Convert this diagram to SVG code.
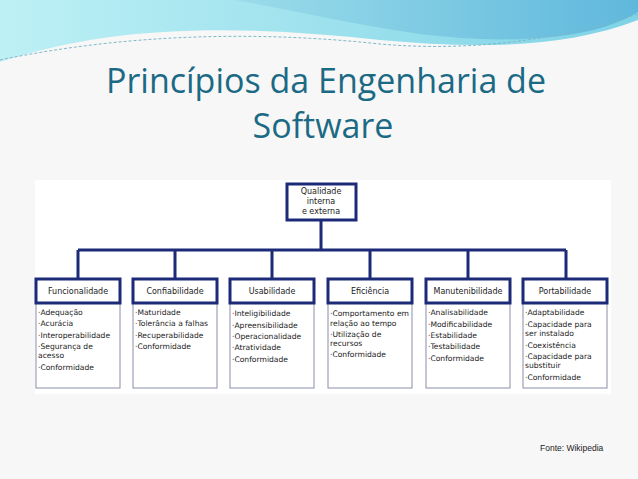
<svg xmlns="http://www.w3.org/2000/svg" width="638" height="479" viewBox="0 0 638 479">
<defs>
<linearGradient id="w1" x1="0" y1="0" x2="1" y2="0"><stop offset="0" stop-color="#bdf0f5"/><stop offset="1" stop-color="#7fd3e6"/></linearGradient>
<linearGradient id="w2" x1="0" y1="0" x2="1" y2="0"><stop offset="0" stop-color="#9bdcea"/><stop offset="1" stop-color="#5fb8dc"/></linearGradient>
</defs>
<style>
.t{font-family:"Open Sans","DejaVu Sans",sans-serif;fill:#1b6a85;font-size:34px;text-anchor:middle}
.h{font-family:"DejaVu Sans",sans-serif;font-size:8px;fill:#222;text-anchor:middle}
.b{font-family:"DejaVu Sans",sans-serif;font-size:7.6px;fill:#222}
.hb{fill:#fff;stroke:#1c2a78;stroke-width:3}
.bb{fill:#fff;stroke:#8a8fa8;stroke-width:1}
.c{fill:none;stroke:#1c2a78;stroke-width:3}
</style>
<rect width="638" height="479" fill="#f7f7f7"/>
<path d="M0 0H638V20C560 50 470 48 380 40C250 26 120 22 0 62Z" fill="url(#w1)"/>
<path d="M235 0H638V12C590 42 500 44 420 34C350 24 290 10 235 0Z" fill="url(#w2)"/>
<path d="M0 60C120 35 250 30 380 44C470 52 560 40 638 14" fill="none" stroke="#7fb9c8" stroke-width="1" stroke-dasharray="3 2"/>
<text class="t" x="326" y="93">Princípios da Engenharia de</text>
<text class="t" x="323" y="138">Software</text>
<rect x="35" y="180" width="576" height="214" fill="#fff"/>
<g id="connectors">
<path class="c" d="M321 220V250M78 250H566M78 250V279M175 250V279M272 250V279M370 250V279M468 250V279M566 250V279"/>
</g>
<g id="root"><rect class="hb" x="287" y="184" width="69" height="36"/>
<text class="h" x="321" y="194">Qualidade</text><text class="h" x="321" y="204">interna</text><text class="h" x="321" y="214">e externa</text></g>
<g id="funcionalidade"><rect class="bb" x="36" y="303" width="84" height="85"/><rect class="hb" x="36" y="279" width="84" height="24"/>
<text class="h" x="78" y="294">Funcionalidade</text>
<text class="b" x="38" y="315">·Adequação</text><text class="b" x="38" y="326">·Acurácia</text><text class="b" x="38" y="338">·Interoperabilidade</text><text class="b" x="38" y="349">·Segurança de</text><text class="b" x="38" y="358">acesso</text><text class="b" x="38" y="370">·Conformidade</text></g>
<g id="confiabilidade"><rect class="bb" x="133" y="303" width="84" height="85"/><rect class="hb" x="133" y="279" width="84" height="24"/>
<text class="h" x="175" y="294">Confiabilidade</text>
<text class="b" x="135" y="315">·Maturidade</text><text class="b" x="135" y="326">·Tolerância a falhas</text><text class="b" x="135" y="338">·Recuperabilidade</text><text class="b" x="135" y="349">·Conformidade</text></g>
<g id="usabilidade"><rect class="bb" x="230" y="303" width="84" height="85"/><rect class="hb" x="230" y="279" width="84" height="24"/>
<text class="h" x="272" y="294">Usabilidade</text>
<text class="b" x="232" y="316">·Inteligibilidade</text><text class="b" x="232" y="328">·Apreensibilidade</text><text class="b" x="232" y="339">·Operacionalidade</text><text class="b" x="232" y="350">·Atratividade</text><text class="b" x="232" y="362">·Conformidade</text></g>
<g id="eficiencia"><rect class="bb" x="328" y="303" width="84" height="85"/><rect class="hb" x="328" y="279" width="84" height="24"/>
<text class="h" x="370" y="294">Eficiência</text>
<text class="b" x="330" y="316">·Comportamento em</text><text class="b" x="330" y="326">relação ao tempo</text><text class="b" x="330" y="337">·Utilização de</text><text class="b" x="330" y="346"> recursos</text><text class="b" x="330" y="357">·Conformidade</text></g>
<g id="manutenibilidade"><rect class="bb" x="426" y="303" width="84" height="85"/><rect class="hb" x="426" y="279" width="84" height="24"/>
<text class="h" x="468" y="294">Manutenibilidade</text>
<text class="b" x="428" y="315">·Analisabilidade</text><text class="b" x="428" y="327">·Modificabilidade</text><text class="b" x="428" y="338">·Estabilidade</text><text class="b" x="428" y="349">·Testabilidade</text><text class="b" x="428" y="361">·Conformidade</text></g>
<g id="portabilidade"><rect class="bb" x="523" y="303" width="84" height="85"/><rect class="hb" x="523" y="279" width="84" height="24"/>
<text class="h" x="565" y="294">Portabilidade</text>
<text class="b" x="525" y="315">·Adaptabilidade</text><text class="b" x="525" y="327">·Capacidade para</text><text class="b" x="525" y="336">ser instalado</text><text class="b" x="525" y="348">·Coexistência</text><text class="b" x="525" y="359">·Capacidade para</text><text class="b" x="525" y="368">substituir</text><text class="b" x="525" y="380">·Conformidade</text></g>
<text x="540" y="451" font-family="Liberation Sans,Arial,sans-serif" font-size="8.5" fill="#222">Fonte: Wikipedia</text>
</svg>
